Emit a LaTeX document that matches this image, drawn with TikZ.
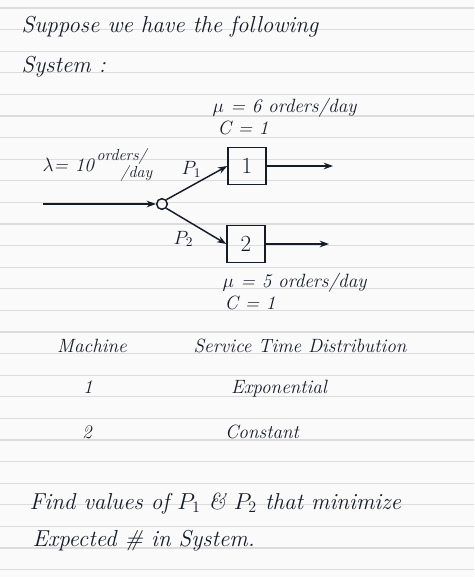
\documentclass[tikz,border=0pt]{standalone}
\usepackage{amsmath}
\usepackage{xcolor}
\definecolor{ink}{HTML}{161C26}
\definecolor{rule-grey}{HTML}{DCDCDC}
\definecolor{paper}{HTML}{FAFAFA}
\usetikzlibrary{arrows.meta}

\begin{document}
\begin{tikzpicture}[x=0.75pt, y=-0.75pt, >={Stealth[length=7pt,width=5pt]},
      every node/.style={font=\Large\itshape, text=ink},
      stationbox/.style={draw=ink, line width=1.1pt, minimum width=28.5pt,
          minimum height=27.75pt, font=\LARGE},
      flow/.style={->, draw=ink, line width=1.1pt}]
    % paper and ruled lines
    \fill[paper] (0,0) rectangle (474,577);
    \useasboundingbox (0,0) rectangle (474,577);
    \foreach \k in {0,...,26}
      \draw[rule-grey, line width=0.9pt] (0,{8+21.6*\k}) -- (474,{8+21.6*\k});

    % heading
    \node[anchor=base west, font=\LARGE\itshape] (intro) at (17,33)
          {Suppose we have the following};
    \node[anchor=base west, font=\LARGE\itshape] (sys) at (17,73) {System :};

    % network
    \node[draw=ink, line width=1.1pt, circle, inner sep=0pt, minimum size=8pt]
          (junction) at (162,204) {};
    \node[stationbox] (st1) at (247,166) {1};
    \node[stationbox] (st2) at (246,244) {2};
    \coordinate (src) at (43,204);
    \coordinate (out1) at (333,166);
    \coordinate (out2) at (329,244);
    \draw[flow] (src) -- (junction.west);
    \draw[flow] (junction.north east) -- (st1.west);
    \draw[flow] (junction.south east) -- (st2.west);
    \draw[flow] (st1.east) -- (out1);
    \draw[flow] (st2.east) -- (out2);

    % labels
    \node[anchor=base west] (mu1) at (208,113) {$\mu$ = 6 orders/day};
    \node[anchor=base west] (c1) at (213,135) {C = 1};
    \node[anchor=base west] (mu2) at (218,287) {$\mu$ = 5 orders/day};
    \node[anchor=base west] (c2) at (220,309) {C = 1};
    \node[anchor=base west] (lam) at (38,172) {$\lambda$= 10};
    \node[anchor=base west, font=\large\itshape] (lamorders) at (92,161) {orders/};
    \node[anchor=base west, font=\large\itshape] (lamday) at (116,178) {/day};
    \node[anchor=base west] (p1) at (177,175) {$P_1$};
    \node[anchor=base west] (p2) at (169,244) {$P_2$};

    % table
    \node[anchor=base] (machine) at (92,352) {Machine};
    \node[anchor=base] (dist) at (300,352) {Service Time Distribution};
    \node[anchor=base] (m1) at (88,393) {1};
    \node[anchor=base] (d1) at (279,393) {Exponential};
    \node[anchor=base] (m2) at (87,438) {2};
    \node[anchor=base] (d2) at (262,438) {Constant};

    % question
    \node[anchor=base west, font=\LARGE\itshape] (ask) at (25,509)
          {Find values of $P_1$ \& $P_2$ that minimize};
    \node[anchor=base west, font=\LARGE\itshape] (ask2) at (28,546)
          {Expected \# in System.};
  \end{tikzpicture}
\end{document}
